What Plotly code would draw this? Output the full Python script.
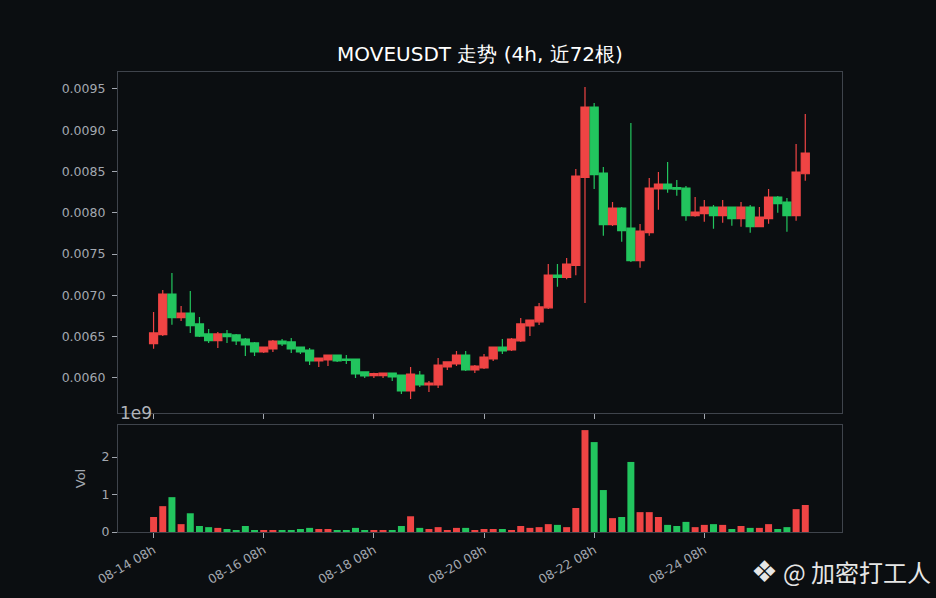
import pandas as pd
import plotly.graph_objects as go
from plotly.subplots import make_subplots

UP = "#ef4444"    # close >= open (red up, CN convention)
DOWN = "#22c55e"  # close < open
BG = "#0b0e11"
FRAME = "#3f444c"
TXT = "#a3a8b0"

# 72 candles, 4h each, starting 08-14 08:00
times = pd.date_range("2025-08-14 08:00", periods=72, freq="4h")

opens = [0.006415, 0.006524, 0.007017, 0.006730, 0.006787, 0.006654, 0.006533, 0.006452,
         0.006533, 0.006521, 0.006472, 0.006424, 0.006315, 0.006351, 0.006448, 0.006436,
         0.006375, 0.006339, 0.006206, 0.006218, 0.006278, 0.006230, 0.006230, 0.006073,
         0.006028, 0.006028, 0.006060, 0.006036, 0.005843, 0.006036, 0.005915, 0.005915,
         0.006133, 0.006170, 0.006278, 0.006097, 0.006121, 0.006230, 0.006375, 0.006339,
         0.006448, 0.006630, 0.006680, 0.006850, 0.007247, 0.007219, 0.007364, 0.008430,
         0.009281, 0.008482, 0.007856, 0.008058, 0.007816, 0.007420, 0.007759, 0.008288,
         0.008349, 0.008304, 0.008300, 0.007965, 0.007989, 0.008070, 0.007965, 0.008070,
         0.007929, 0.008070, 0.007832, 0.007929, 0.008191, 0.008131, 0.007965, 0.008473]
highs = [0.006800, 0.007065, 0.007271, 0.006872, 0.007053, 0.006739, 0.006593, 0.006557,
         0.006581, 0.006533, 0.006484, 0.006436, 0.006375, 0.006460, 0.006472, 0.006484,
         0.006375, 0.006363, 0.006242, 0.006278, 0.006278, 0.006278, 0.006230, 0.006073,
         0.006064, 0.006060, 0.006060, 0.006036, 0.006133, 0.006085, 0.005964, 0.006242,
         0.006194, 0.006327, 0.006327, 0.006157, 0.006291, 0.006375, 0.006472, 0.006484,
         0.006726, 0.006702, 0.006908, 0.007380, 0.007380, 0.007453, 0.008530, 0.009523,
         0.009330, 0.008555, 0.008131, 0.008070, 0.009087, 0.007864, 0.008421, 0.008494,
         0.008615, 0.008397, 0.008325, 0.008191, 0.008155, 0.008094, 0.008155, 0.008070,
         0.008131, 0.008094, 0.008070, 0.008288, 0.008203, 0.008179, 0.008833, 0.009196]
lows = [0.006355, 0.006508, 0.006645, 0.006690, 0.006545, 0.006496, 0.006424, 0.006363,
        0.006424, 0.006400, 0.006266, 0.006266, 0.006303, 0.006315, 0.006387, 0.006303,
        0.006291, 0.006157, 0.006133, 0.006145, 0.006194, 0.006170, 0.006000, 0.006000,
        0.006000, 0.006000, 0.005964, 0.005806, 0.005746, 0.005891, 0.005831, 0.005879,
        0.006097, 0.006145, 0.006085, 0.006061, 0.006109, 0.006206, 0.006291, 0.006327,
        0.006436, 0.006508, 0.006642, 0.006835, 0.007105, 0.007195, 0.007243, 0.006908,
        0.008288, 0.007723, 0.007840, 0.007650, 0.007404, 0.007335, 0.007723, 0.008037,
        0.008243, 0.008208, 0.007904, 0.007953, 0.007892, 0.007808, 0.007880, 0.007844,
        0.007832, 0.007759, 0.007832, 0.007868, 0.008001, 0.007771, 0.007904, 0.008389]
closes = [0.006545, 0.007017, 0.006730, 0.006787, 0.006633, 0.006508, 0.006452, 0.006533,
          0.006500, 0.006448, 0.006400, 0.006315, 0.006375, 0.006448, 0.006412, 0.006351,
          0.006315, 0.006206, 0.006242, 0.006278, 0.006206, 0.006212, 0.006048, 0.006024,
          0.006052, 0.006060, 0.006012, 0.005843, 0.006048, 0.005915, 0.005939, 0.006157,
          0.006194, 0.006278, 0.006097, 0.006145, 0.006254, 0.006375, 0.006327, 0.006472,
          0.006654, 0.006702, 0.006860, 0.007247, 0.007219, 0.007380, 0.008446, 0.009281,
          0.008461, 0.007856, 0.008058, 0.007783, 0.007420, 0.007780, 0.008300, 0.008349,
          0.008288, 0.008285, 0.007965, 0.008010, 0.008070, 0.007965, 0.008070, 0.007929,
          0.008070, 0.007832, 0.007949, 0.008191, 0.008110, 0.007965, 0.008494, 0.008724]
# volume in units of 1e9
volumes = [0.40, 0.69, 0.93, 0.21, 0.50, 0.16, 0.13, 0.11, 0.08, 0.05, 0.16, 0.05,
           0.05, 0.05, 0.05, 0.05, 0.08, 0.11, 0.08, 0.08, 0.05, 0.05, 0.11, 0.05,
           0.05, 0.05, 0.05, 0.16, 0.42, 0.11, 0.08, 0.13, 0.05, 0.11, 0.11, 0.05,
           0.08, 0.08, 0.08, 0.05, 0.16, 0.11, 0.13, 0.21, 0.19, 0.13, 0.64, 2.72,
           2.40, 1.12, 0.37, 0.40, 1.87, 0.53, 0.53, 0.40, 0.19, 0.16, 0.27, 0.13,
           0.19, 0.21, 0.19, 0.08, 0.16, 0.11, 0.11, 0.21, 0.08, 0.13, 0.61, 0.72]

vol_colors = [UP if c >= o else DOWN for o, c in zip(opens, closes)]

fig = make_subplots(rows=2, cols=1, shared_xaxes=True, vertical_spacing=0.03)

fig.add_trace(go.Candlestick(
    x=times, open=opens, high=highs, low=lows, close=closes,
    increasing=dict(line=dict(color=UP, width=1.2), fillcolor=UP),
    decreasing=dict(line=dict(color=DOWN, width=1.2), fillcolor=DOWN),
    whiskerwidth=0, showlegend=False,
), row=1, col=1)

fig.add_trace(go.Bar(
    x=times, y=[v * 1e9 for v in volumes], marker_color=vol_colors,
    marker_line_width=0, width=0.76 * 4 * 3600 * 1000, showlegend=False,
), row=2, col=1)

xr = [pd.Timestamp("2025-08-13 16:30"), pd.Timestamp("2025-08-26 20:00")]
xticks = pd.date_range("2025-08-14 08:00", periods=6, freq="48h")

axis_style = dict(showline=True, mirror=True, linecolor=FRAME, linewidth=1.3,
                  showgrid=False, zeroline=False, ticks="outside", ticklen=5,
                  tickcolor=TXT, tickfont=dict(size=12.5, color=TXT))

fig.update_xaxes(**axis_style, range=xr, tickvals=xticks,
                 tickformat="%m-%d %Hh", rangeslider_visible=False)
fig.update_xaxes(showticklabels=False, row=1, col=1)
fig.update_xaxes(tickangle=-30, row=2, col=1)

fig.update_yaxes(**axis_style, ticksuffix="\u00a0")
fig.update_yaxes(range=[0.005576, 0.009705], tick0=0.006, dtick=0.0005,
                 tickformat=".4f", domain=[0.2587, 1.0], row=1, col=1)
fig.update_yaxes(range=[0, 2.856e9], tickvals=[0, 1e9, 2e9], ticktext=["0", "1", "2"],
                 domain=[0.0, 0.2326], title=dict(text="Vol", font=dict(size=13, color=TXT),
                 standoff=12), row=2, col=1)

fig.update_layout(
    width=936, height=598,
    margin=dict(l=118, r=94, t=72, b=66),
    paper_bgcolor=BG, plot_bgcolor=BG,
    font=dict(family="DejaVu Sans", color=TXT),
    boxgap=0.12, boxgroupgap=0,
    title=dict(text="MOVEUSDT 走势 (4h, 近72根)", x=0.5, xref="paper", xanchor="center",
               y=1 - 54 / 598, yanchor="middle", font=dict(size=20, color="#ffffff")),
    annotations=[
        dict(text="1e9", xref="paper", yref="paper", x=0, y=0.2587, xanchor="left",
             yanchor="middle", showarrow=False, font=dict(size=17, color="#b0b4ba")),
        dict(text="❖", xref="paper", yref="paper", x=(764 - 118) / 724,
             y=(532 - 571) / 460, xanchor="center", yanchor="middle", showarrow=False,
             font=dict(size=30, color="#e6e6e6")),
        dict(text="@ 加密打工人", xref="paper", yref="paper", x=(781 - 118) / 724,
             y=(532 - 571) / 460, xanchor="left", yanchor="middle", showarrow=False,
             font=dict(size=24, color="#e6e6e6", family="Noto Sans CJK SC")),
    ],
)

fig.write_html("out.html", config={"displayModeBar": False},
               post_script="document.body.style.margin='0';")
